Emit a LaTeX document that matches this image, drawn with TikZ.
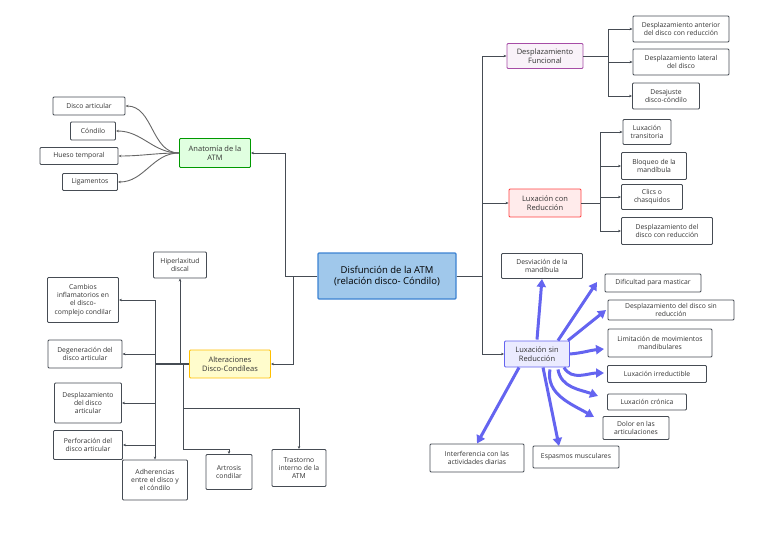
\documentclass[tikz,border=0pt]{standalone}
\usepackage{fontspec}
\setmainfont{Open Sans}
\usetikzlibrary{arrows.meta}
\definecolor{edgegray}{RGB}{70,76,84}
\definecolor{blueline}{RGB}{100,100,240}
\definecolor{centerfill}{RGB}{160,200,235}
\definecolor{centerline}{RGB}{60,130,210}
\tikzset{
  box/.style={draw=edgegray, line width=0.9pt, fill=white, rounded corners=1pt, align=center,
    font=\fontsize{6.8}{8.2}\selectfont, inner sep=2pt, text=black!80},
  conn/.style={draw=edgegray, line width=0.9pt, -{Stealth[length=3pt,width=2.5pt]}},
  fat/.style={draw=blueline, line width=3pt, -{Triangle[length=8pt,width=9pt]}},
}
\begin{document}
\begin{tikzpicture}[x=1pt,y=-1pt]
    \useasboundingbox (0,0) rectangle (768,538);
    % Centro
    \node[box, draw=centerline, fill=centerfill, line width=1.2pt, minimum width=138, minimum height=46,
      font=\fontsize{9.5}{11}\selectfont, text=black] (atm) at (387,276) {Disfunción de la ATM\\(relación disco- Cóndilo)};
    % Ramas principales
    \node[box, draw=green!60!black, fill=green!12, minimum width=71, minimum height=29, font=\fontsize{7.5}{9}\selectfont] (anat) at (215,153) {Anatomía de la\\ATM};
    \node[box, draw=orange!50!yellow, fill=yellow!20, minimum width=81, minimum height=28, font=\fontsize{7.5}{9}\selectfont] (alter) at (230,364) {Alteraciones\\Disco-Condíleas};
    \node[box, draw=violet!70, fill=violet!5, minimum width=76, minimum height=25, font=\fontsize{7.5}{9}\selectfont] (despf) at (545,56) {Desplazamiento\\Funcional};
    \node[box, draw=red!75, fill=red!8, minimum width=72, minimum height=28, font=\fontsize{7.5}{9}\selectfont] (luxcon) at (545,203) {Luxación con\\Reducción};
    \node[box, draw=blueline, fill=blue!8, minimum width=65, minimum height=26, font=\fontsize{7.5}{9}\selectfont] (luxsin) at (537,354) {Luxación sin\\Reducción};
    % Anatomía
    \node[box, minimum width=72, minimum height=18] (disco) at (89,106) {Disco articular};
    \node[box, minimum width=45, minimum height=18] (cond) at (93,131) {Cóndilo};
    \node[box, minimum width=78, minimum height=17] (hueso) at (79,156) {Hueso temporal};
    \node[box, minimum width=55, minimum height=17] (lig) at (90,182) {Ligamentos};
    % Alteraciones
    \node[box, minimum width=53, minimum height=26] (hiper) at (180,265) {Hiperlaxitud\\discal};
    \node[box, minimum width=71, minimum height=45] (camb) at (83,300) {Cambios\\inflamatorios en\\el disco-\\complejo condilar};
    \node[box, minimum width=74, minimum height=28] (degen) at (85,354) {Degeneración del\\disco articular};
    \node[box, minimum width=67, minimum height=40] (despa) at (88,403) {Desplazamiento\\del disco\\articular};
    \node[box, minimum width=69, minimum height=29] (perf) at (88,445) {Perforación del\\disco articular};
    \node[box, minimum width=65, minimum height=40] (adher) at (155,480) {Adherencias\\entre el disco y\\el cóndilo};
    \node[box, minimum width=46, minimum height=35] (artr) at (229,472) {Artrosis\\condilar};
    \node[box, minimum width=54, minimum height=37] (tras) at (299,468) {Trastorno\\interno de la\\ATM};
    % Desplazamiento funcional
    \node[box, minimum width=96, minimum height=26] (ant) at (681,29) {Desplazamiento anterior\\del disco con reducción};
    \node[box, minimum width=96, minimum height=26] (lat) at (681,62) {Desplazamiento lateral\\del disco};
    \node[box, minimum width=67, minimum height=26] (desaj) at (666,96) {Desajuste\\disco-cóndilo};
    % Luxación con reducción
    \node[box, minimum width=48, minimum height=25] (trans) at (647,132) {Luxación\\transitoria};
    \node[box, minimum width=65, minimum height=27] (bloq) at (654,166) {Bloqueo de la\\mandíbula};
    \node[box, minimum width=61, minimum height=25] (clics) at (652,197) {Clics o\\chasquidos};
    \node[box, minimum width=91, minimum height=27] (dcr) at (667,231) {Desplazamiento del\\disco con reducción};
    % Luxación sin reducción
    \node[box, minimum width=81, minimum height=25] (desv) at (542,266) {Desviación de la\\mandíbula};
    \node[box, minimum width=96, minimum height=18] (dif) at (653,283) {Dificultad para masticar};
    \node[box, minimum width=126, minimum height=20] (dsr) at (671,310) {Desplazamiento del disco sin\\reducción};
    \node[box, minimum width=104, minimum height=28] (lim) at (660,343) {Limitación de movimientos\\mandibulares};
    \node[box, minimum width=99, minimum height=17] (irr) at (657,374) {Luxación irreductible};
    \node[box, minimum width=79, minimum height=16] (cron) at (647,402) {Luxación crónica};
    \node[box, minimum width=66, minimum height=23] (dolor) at (636,428) {Dolor en las\\articulaciones};
    \node[box, minimum width=94, minimum height=28] (inter) at (477,458) {Interferencia con las\\actividades diarias};
    \node[box, minimum width=86, minimum height=22] (esp) at (576,457) {Espasmos musculares};
    % Conectores del centro
    \draw[conn] (atm.west) -| (285,153) -- (anat.east);
    \draw[conn] (atm.west) -| (293,364) -- (alter.east);
    \draw[conn] (atm.east) -| (482,56) -- (despf.west);
    \draw[conn] (atm.east) -| (482,203) -- (luxcon.west);
    \draw[conn] (atm.east) -| (482,354) -- (luxsin.west);
    % Anatomía
    \foreach \t in {disco,cond,hueso,lig}
      \draw[conn, draw=gray!80!black] (anat.west) to[out=180,in=0] (\t.east);
    % Alteraciones
    \draw[edgegray, line width=1.4pt] (alter.west) -- (155,364);
    \foreach \t in {camb,degen,despa,perf}
      \draw[conn] (155,364) |- (\t.east);
    \draw[conn] (155,364) -- (adher.north);
    \draw[conn] (180,364) -- (hiper.south);
    \draw[conn] (183,364) |- (229,449) -- (artr.north);
    \draw[conn] (183,364) |- (299,408) -- (tras.north);
    % Desplazamiento funcional
    \foreach \t in {ant,lat,desaj}
      \draw[conn] (despf.east) -| (608,56) |- (\t.west);
    % Luxación con reducción
    \foreach \t in {trans,bloq,clics,dcr}
      \draw[conn] (luxcon.east) -| (600,203) |- (\t.west);
    % Luxación sin reducción
    \draw[fat] (luxsin.north) ++(0,-1) -- (desv.south);
    \draw[fat] (luxsin.north east) ++(-12,0) -- (597,282);
    \draw[fat] (luxsin.north east) ++(-2,0) -- (606,310);
    \draw[fat] (luxsin.east) to[out=5,in=185] (604,349);
    \draw[fat] (luxsin.south east) ++(-6,0) to[out=-60,in=180] (604,373);
    \draw[fat] (luxsin.south east) ++(-12,2) to[out=-80,in=160] (598,396);
    \draw[fat] (luxsin.south east) ++(-20,2) to[out=-100,in=150] (594,417);
    \draw[fat] (luxsin.south) ++(6,0) -- (559,446);
    \draw[fat] (luxsin.south west) ++(15,0) -- (inter.north);
\end{tikzpicture}
\end{document}
